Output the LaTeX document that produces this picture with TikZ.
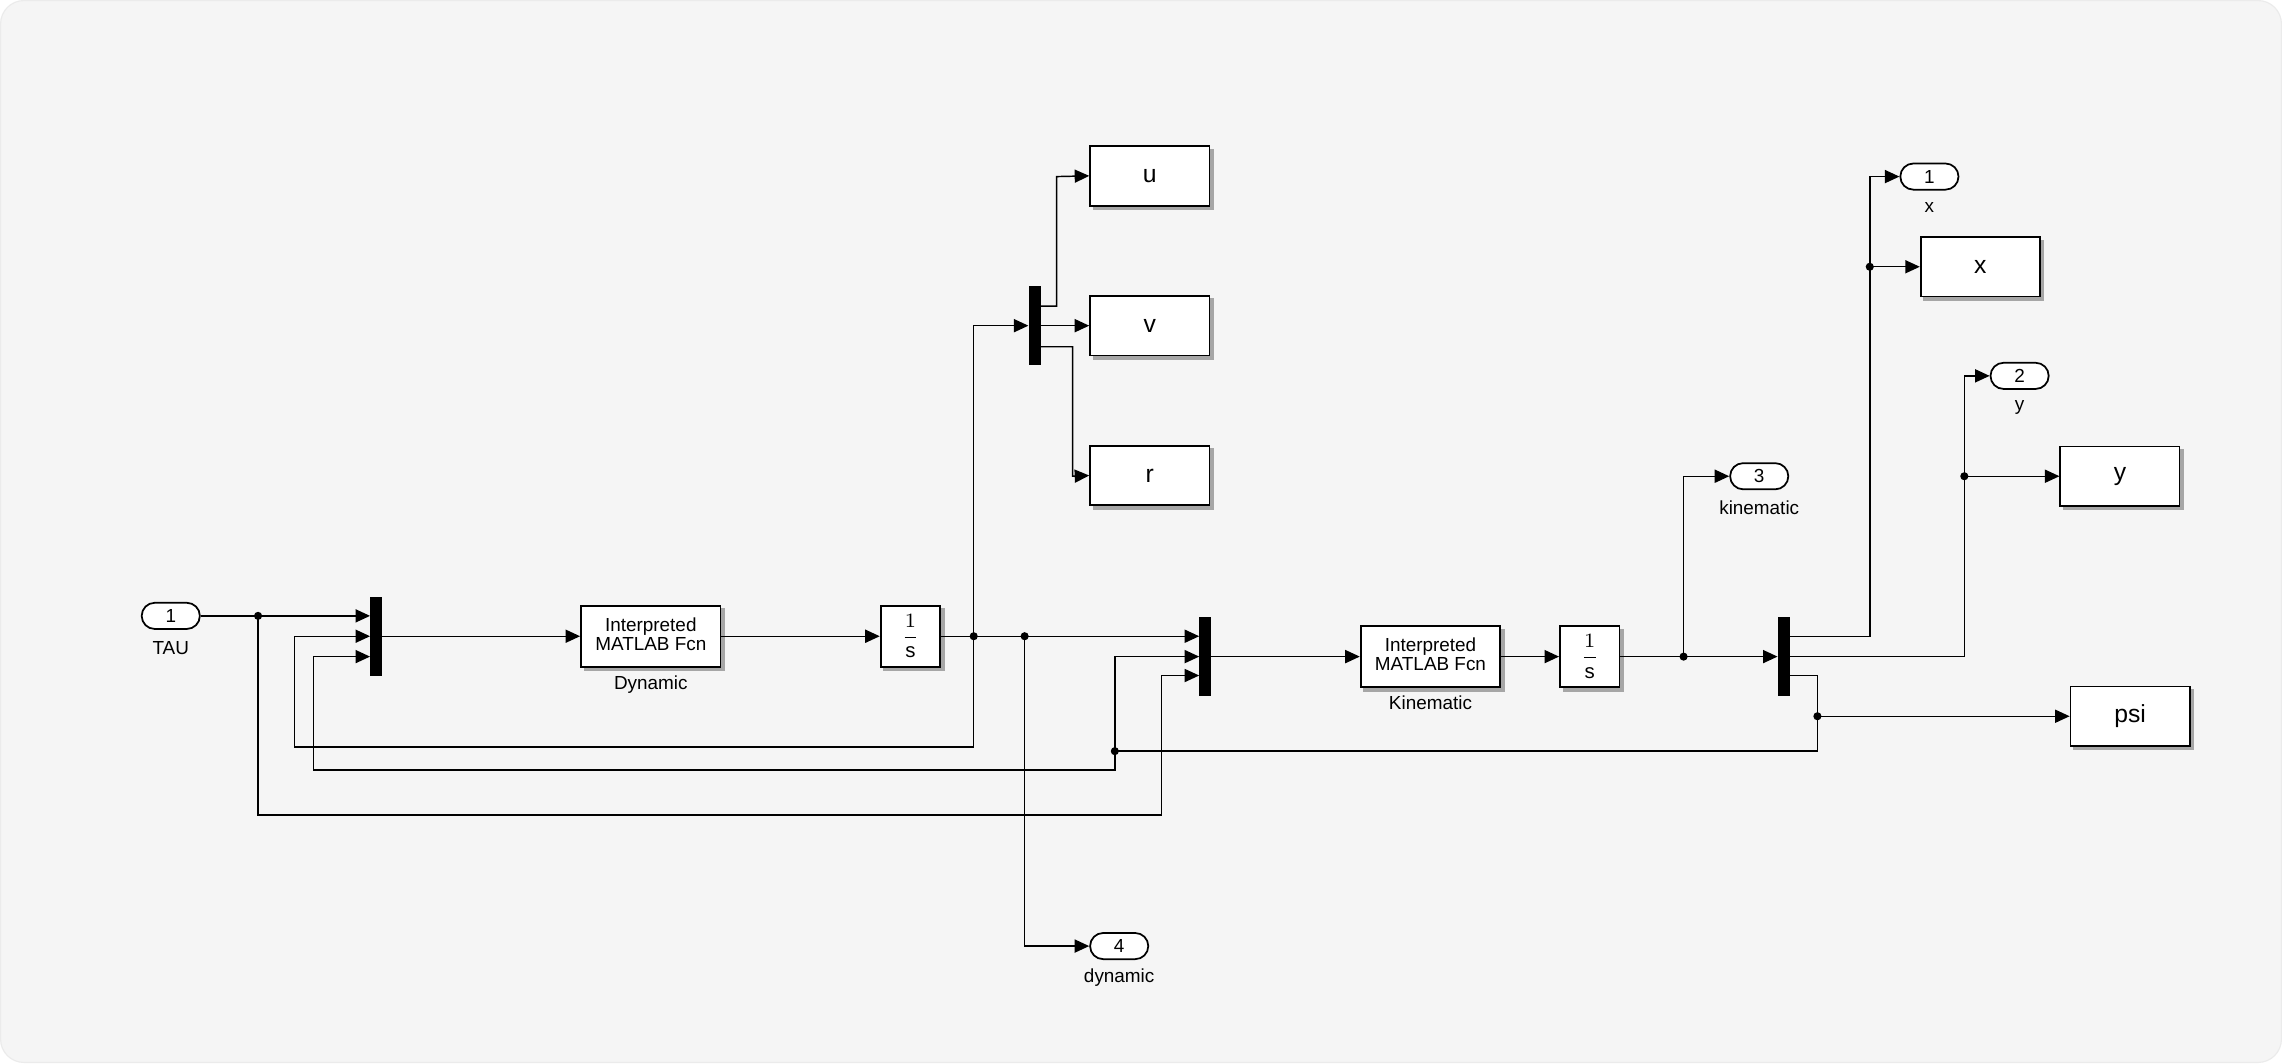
\documentclass[tikz,border=0pt]{standalone}
\usepackage{fontspec}
\setmainfont{Liberation Sans}
\usetikzlibrary{arrows.meta,calc}
\begin{document}
\begin{tikzpicture}[x=0.5pt,y=-0.5pt,
  every node/.style={font=\fontsize{6.5}{7.5}\selectfont},
  blk/.style={draw,line width=0.6pt,fill=white,inner sep=0pt,minimum width=48pt,minimum height=21pt},
  sblk/.style={blk,minimum width=41pt,minimum height=20.5pt,font=\fontsize{8.5}{10}\selectfont},
  intg/.style={blk,minimum width=20.5pt,minimum height=21pt},
  port/.style={draw,line width=0.6pt,fill=white,rounded corners=4.5pt,minimum width=20pt,minimum height=9pt,inner sep=0pt},
  bar/.style={fill=black,minimum width=4pt,minimum height=27pt,inner sep=0pt},
  lab/.style={font=\fontsize{6.5}{7.5}\selectfont},
  w/.style={line width=0.5pt},
  a/.style={w,-{Triangle[length=5pt,width=4.5pt]}},
  dot/.style={circle,fill=black,inner sep=0pt,minimum size=2.8pt}]
\fill[rounded corners=8pt,fill=black!4,draw=black!8] (0,0) rectangle (1568,730);
\useasboundingbox (0,0) rectangle (1568,730);
\newcommand{\shad}[1]{\fill[black!35] ($(#1.south west)+(1.2pt,-1.2pt)$) rectangle ($(#1.north east)+(1.2pt,-1.2pt)$);}
\newcommand{\intfrac}{\fontsize{7}{8}\selectfont$\displaystyle\frac{1}{\mathrm{s}}$}
% nodes
\node[port] (tau) at (117,423) {1};
\node[lab] at (117,445) {TAU};
\node[bar] (m1) at (258,437) {};
\node[blk] (dyn) at (447,437) {};
\node[bar] (d1) at (711,223.5) {};
\node[intg] (i1) at (625.5,437) {};
\node[sblk] (u) at (790,120.5) {};
\node[sblk] (v) at (790,223.5) {};
\node[sblk] (r) at (790,326.5) {};
\node[port] (o4) at (769,650) {4};
\node[lab] at (769,672) {dynamic};
\node[bar] (m2) at (828,451) {};
\node[blk] (kin) at (983,451) {};
\node[intg] (i2) at (1092.5,451) {};
\node[port] (o3) at (1209,327) {3};
\node[lab] at (1209,349) {kinematic};
\node[bar] (d2) at (1226,451) {};
\node[port] (o1) at (1326,121) {1};
\node[lab] at (1326,142) {x};
\node[sblk] (xb) at (1361,183) {};
\node[port] (o2) at (1388,258) {2};
\node[lab] at (1388,280) {y};
\node[sblk] (yb) at (1457,327) {};
\node[sblk] (psi) at (1464,492) {};
\foreach \n in {dyn,i1,u,v,r,kin,i2,xb,yb,psi}{\shad{\n}}
\node[blk] at (dyn) {\begin{tabular}{@{}c@{}}Interpreted\\[-1pt] MATLAB Fcn\end{tabular}};
\node[lab] at (447,470) {Dynamic};
\node[blk] at (kin) {\begin{tabular}{@{}c@{}}Interpreted\\[-1pt] MATLAB Fcn\end{tabular}};
\node[lab] at (983,483) {Kinematic};
\node[intg] at (i1) {\intfrac};
\node[intg] at (i2) {\intfrac};
\node[sblk] at (u) {u};
\node[sblk] at (v) {v};
\node[sblk] at (r) {r};
\node[sblk] at (xb) {x};
\node[sblk] at (yb) {y};
\node[sblk] at (psi) {psi};
% named coordinates
\coordinate (m1a) at (254,423); \coordinate (m1b) at (254,437); \coordinate (m1c) at (254,451);
\coordinate (m2a) at (824,437); \coordinate (m2b) at (824,451); \coordinate (m2c) at (824,464);
\coordinate (d1a) at (715,210); \coordinate (d1c) at (715,238);
\coordinate (d2a) at (1230,437); \coordinate (d2b) at (1230,451); \coordinate (d2c) at (1230,464);
\node[dot] (p1) at (177,423) {};
\node[dot] (p2) at (669,437) {};
\node[dot] (p3) at (704,437) {};
\node[dot] (p4) at (766,516) {};
\node[dot] (p5) at (1157,451) {};
\node[dot] (p6) at (1285,183) {};
\node[dot] (p7) at (1350,327) {};
\node[dot] (p8) at (1249,492) {};
% connectors
\draw[a] (tau.east) -- (m1a);
\draw[a] (p1.center) -- (177,560) -| (798,464) -- (m2c);
\draw[a] (m1.east) -- (dyn.west);
\draw[a] (dyn.east) -- (i1.west);
\draw[a] (i1.east) -- (m2a);
\draw[a] (p2.center) |- (d1.west);
\draw[a] (p2.center) -- (669,513) -| (202,437) -- (m1b);
\draw[a] (p3.center) |- (o4.west);
\draw[a] (d1a) -| (726,121) -- (u.west);
\draw[a] (d1.east) -- (v.west);
\draw[a] (d1c) -| (737,327) -- (r.west);
\draw[a] (m2.east) -- (kin.west);
\draw[a] (kin.east) -- (i2.west);
\draw[a] (i2.east) -- (d2.west);
\draw[a] (p5.center) |- (o3.west);
\draw[a] (d2a) -| (1285,121) -- (o1.west);
\draw[a] (p6.center) -- (xb.west);
\draw[a] (d2b) -| (1350,258) -- (o2.west);
\draw[a] (p7.center) -- (yb.west);
\draw[w] (d2c) -| (1249,516) -- (p4.center);
\draw[a] (p8.center) -- (psi.west);
\draw[a] (p4.center) |- (m2b);
\draw[a] (p4.center) -- (766,529) -| (215,451) -- (m1c);
\end{tikzpicture}
\end{document}
